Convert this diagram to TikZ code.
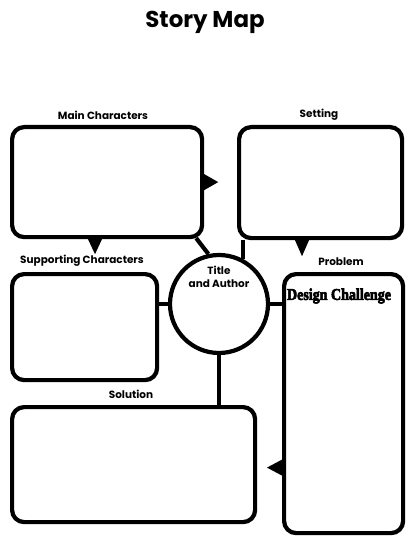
\documentclass[tikz,border=0pt]{standalone}
\usepackage{fontspec}
\usetikzlibrary{calc}
\setmainfont{Poppins}
\newfontfamily\dcfont[FakeBold=4]{Liberation Serif}
\begin{document}
\begin{tikzpicture}[x=1bp,y=-1bp,
  box/.style={draw, line width=4.2bp, rounded corners=12bp, inner sep=0pt, anchor=north west},
  lbl/.style={font=\fontsize{10.5}{12}\selectfont\bfseries, inner sep=0pt},
  conn/.style={line width=4.2bp},
  tri/.style={fill=black}]
\useasboundingbox (0,0) rectangle (413,544);
\node[font=\fontsize{23}{26}\selectfont\bfseries, inner sep=0pt] (title) at (205,22) {Story Map};
\node[box, minimum width=190bp, minimum height=110bp] (mc) at (10,125) {};
\node[box, minimum width=163bp, minimum height=111bp] (st) at (237,125) {};
\node[box, minimum width=145bp, minimum height=106bp] (sc) at (10,272) {};
\node[box, minimum width=119bp, minimum height=259bp] (pb) at (282,272) {};
\node[box, minimum width=243bp, minimum height=115bp] (so) at (10,405) {};
\node[draw, circle, line width=4.2bp, minimum size=98bp, inner sep=0pt] (ta) at (219,304) {};
\node[inner sep=0pt, align=center, font=\fontsize{10.5}{13}\selectfont\bfseries] (tat) at (219,277) {Title\\and Author};
\node[lbl] (lmc) at (103,115) {Main Characters};
\node[lbl] (lst) at (319,115) {Setting};
\node[lbl] (lsc) at (82,261) {Supporting Characters};
\node[lbl] (lpb) at (341,262) {Problem};
\node[lbl] (lso) at (131,394) {Solution};
\node[inner sep=0pt, font=\dcfont\bfseries\fontsize{11}{12}\selectfont] (dc) at (339,296) {\resizebox*{104bp}{15bp}{Design Challenge}};
% connectors
\draw[conn] (ta.102) -- ($(mc.south east)+(-8,-1)$);
\draw[conn] (ta.62) -- (ta.62 |- st.south);
\draw[conn] (ta.west) -- (ta.west -| sc.east);
\draw[conn] (ta.east) -- (ta.east -| pb.west);
\draw[conn] (ta.south) -- (ta.south |- so.north);
% arrowheads
\fill[tri] ($(mc.east)+(0,-8)$) -- ++(14,8) -- ++(-14,8) -- cycle;
\fill[tri] ($(mc.south west)+(78,0)$) -- ++(14,0) -- ++(-7,15) -- cycle;
\fill[tri] ($(st.south west)+(58,0)$) -- ++(14,0) -- ++(-7,16) -- cycle;
\fill[tri] ($(pb.west)+(0,56)$) -- ++(0,16) -- ++(-15,-8) -- cycle;
\end{tikzpicture}
\end{document}
